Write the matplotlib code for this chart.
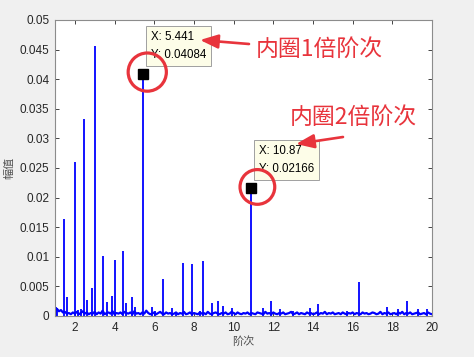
import numpy as np
import matplotlib
matplotlib.use("Agg")
import matplotlib.pyplot as plt

# order-spectrum spikes (order, amplitude)
spike_order = [1.0, 1.07, 1.12, 1.45, 1.6, 2.0, 2.17, 2.3, 2.45, 2.6, 2.85, 3.0,
               3.44, 3.61, 3.86, 4.02, 4.45, 4.6, 4.87, 5.02, 5.441, 5.88, 6.03,
               6.45, 6.89, 7.1, 7.44, 7.9, 8.3, 8.45, 8.89, 9.24, 9.45, 9.9,
               10.87, 11.48, 11.87, 12.32, 13.0, 13.85, 14.27, 15.7, 16.33,
               17.75, 18.3, 18.74, 19.31, 19.77]
spike_amp = [0.0435, 0.0016, 0.0013, 0.0164, 0.0032, 0.0260, 0.0010, 0.0012, 0.0333,
             0.0027, 0.0048, 0.0456, 0.0101, 0.0024, 0.0033, 0.0094, 0.0110, 0.0022,
             0.0032, 0.0015, 0.04084, 0.0015, 0.0008, 0.0063, 0.0014, 0.0007, 0.0090,
             0.0087, 0.0008, 0.0093, 0.0022, 0.0026, 0.0017, 0.0014, 0.02166, 0.0013,
             0.0025, 0.0012, 0.0008, 0.0014, 0.0020, 0.0009, 0.0057, 0.0015, 0.0011,
             0.0026, 0.0012, 0.0012]

# low-level noise floor, every 0.1 order from 1.0 to 20.0 (units of 1e-4)
noise_floor = [9, 12, 8, 10, 6, 7, 4, 5, 3, 6, 4, 7, 3, 5, 8, 4, 6, 3, 5, 4,
               7, 3, 6, 4, 9, 3, 5, 6, 4, 8, 3, 5, 4, 6, 3, 7, 5, 4, 6, 3,
               8, 4, 5, 3, 6, 4, 9, 5, 3, 4, 6, 3, 5, 7, 4, 3, 6, 4, 5, 3,
               4, 6, 3, 5, 4, 7, 3, 4, 6, 3, 5, 4, 3, 6, 4, 5, 3, 7, 4, 3,
               5, 6, 4, 3, 5, 4, 6, 3, 4, 7, 5, 3, 6, 4, 3, 5, 4, 6, 3, 5,
               4, 3, 6, 5, 4, 3, 7, 4, 5, 3, 6, 4, 3, 5, 4, 6, 3, 4, 5, 7,
               3, 4, 6, 3, 5, 4, 3, 6, 4, 5, 3, 4, 6, 3, 5, 4, 7, 3, 5, 4,
               6, 3, 4, 5, 3, 6, 4, 3, 5, 4, 6, 3, 5, 4, 3, 6, 4, 5, 3, 4,
               6, 5, 3, 4, 7, 3, 5, 4, 6, 3, 4, 5, 3, 6, 4, 7, 3, 5, 4, 6,
               3, 4, 5, 6, 3, 4, 5, 3, 6, 4, 3]
noise_order = np.round(np.arange(1.0, 20.001, 0.1), 2)

datatips = [(5.441, 0.04084), (10.87, 0.02166)]
tip_box_xy = [(5.83, 0.0481), (11.27, 0.02885)]
circle_xy = [(5.65, 0.0412), (11.2, 0.0218)]
callouts = ["内圈1倍阶次", "内圈2倍阶次"]

W, H = 474, 357
BG = "#f0f0f0"
RED = "#e8343c"
BLUE = "#0000ff"
TXT = "#262626"

plt.rcParams["font.family"] = ["Liberation Sans", "Noto Sans CJK SC", "DejaVu Sans"]

fig = plt.figure(figsize=(W / 100, H / 100), dpi=100)
fig.patch.set_facecolor(BG)
ax = fig.add_axes([55 / W, 1 - 316 / H, 377 / W, 296 / H])

ax.plot(noise_order, np.array(noise_floor) * 1e-4, color=BLUE, lw=1.6)
ax.vlines(spike_order, 0, spike_amp, color=BLUE, lw=1.3)

ax.set_xlim(1, 20)
ax.set_ylim(0, 0.05)
ax.set_xticks(np.arange(2, 21, 2))
ax.set_yticks(np.arange(0, 0.0501, 0.005))
ax.set_yticklabels(["0", "0.005", "0.01", "0.015", "0.02", "0.025",
                    "0.03", "0.035", "0.04", "0.045", "0.05"])
ax.tick_params(direction="in", top=True, right=True, length=3, width=0.6,
               colors=TXT, labelsize=8.5, pad=4)
for sp in ax.spines.values():
    sp.set_color("#8c8c8c")
    sp.set_linewidth(0.8)

ax.set_xlabel("阶次", fontsize=8, color="#505050", family=["Noto Sans CJK SC"], labelpad=2)
ax.set_ylabel("幅值", fontsize=8, color="#505050", family=["Noto Sans CJK SC"], labelpad=4)

# data tips
for (tx, ty), (bx, by) in zip(datatips, tip_box_xy):
    ax.plot(tx, ty, marker="s", ms=7, color="black", zorder=5, clip_on=False)
    ax.text(bx, by, f"X: {tx:.4g}\nY: {ty:.4g}", ha="left", va="top", fontsize=8.3,
            color="black", linespacing=1.6, zorder=6,
            bbox=dict(boxstyle="square,pad=0.45", fc="#fdfde8", ec="#a0a0a0", lw=0.7))

# red circles
cx, cy = zip(*circle_xy)
ax.scatter(cx, cy, s=[27.5 ** 2, 25 ** 2], facecolors="none", edgecolors=RED,
           linewidths=2.3, zorder=7, clip_on=False)

# red callout text + arrows (figure pixel positions)
def fxy(px, py):
    return (px / W, 1 - py / H)

fig.text(*fxy(256, 49), callouts[0], color=RED, fontsize=16.5, va="center", ha="left",
         family=["Noto Sans CJK SC"])
fig.text(*fxy(290, 117), callouts[1], color=RED, fontsize=16.5, va="center", ha="left",
         family=["Noto Sans CJK SC"])
arrow = dict(arrowstyle="-|>,head_length=0.9,head_width=0.35", color=RED, lw=1.9,
             shrinkA=0, shrinkB=0)
fig.add_artist(matplotlib.patches.FancyArrowPatch(fxy(249, 44), fxy(200, 40),
               transform=fig.transFigure, **arrow, mutation_scale=12))
fig.add_artist(matplotlib.patches.FancyArrowPatch(fxy(343, 137), fxy(296, 144),
               transform=fig.transFigure, **arrow, mutation_scale=12))

fig.savefig("out.png", dpi=100, facecolor=fig.get_facecolor())
